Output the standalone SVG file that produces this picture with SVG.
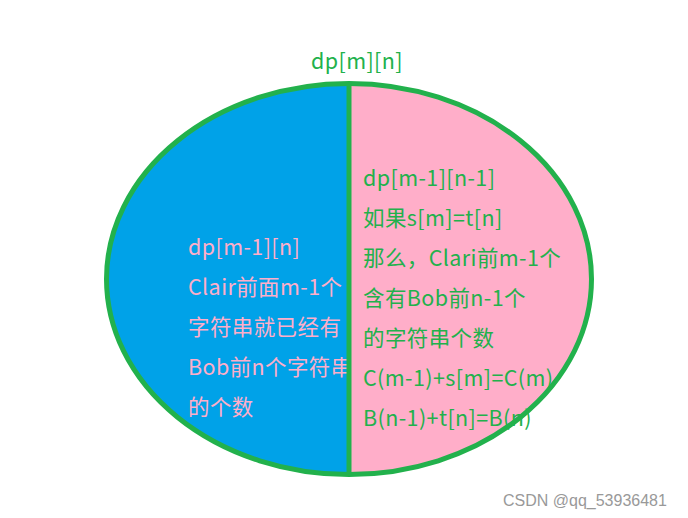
<svg xmlns="http://www.w3.org/2000/svg" width="688" height="518" viewBox="0 0 688 518">
<style>
text{font-family:"Microsoft YaHei","Noto Sans CJK SC","Noto Sans",sans-serif;font-size:21.5px;letter-spacing:0.4px}
.l{fill:#FFAEC9}
.r{fill:#22B14C}
.ln{stroke:#22B14C;stroke-width:5;fill:none}
</style>
<defs>
<clipPath id="cl"><rect x="0" y="0" width="348" height="518"/></clipPath>
</defs>
<rect width="688" height="518" fill="#fff"/>
<g id="left">
<path d="M349,83.5 A242.5,195.5 0 0 0 349,474.5 Z" fill="#00A2E8"/>
<g clip-path="url(#cl)">
<text class="l" x="188" y="255">dp[m-1][n]</text>
<text class="l" x="188" y="295">Clair前面m-1个</text>
<text class="l" x="188" y="335">字符串就已经有</text>
<text class="l" x="188" y="375">Bob前n个字符串</text>
<text class="l" x="188" y="415">的个数</text>
</g>
</g>
<g id="right">
<path d="M349,83.5 A242.5,195.5 0 0 1 349,474.5 Z" fill="#FFAEC9"/>
<text class="r" x="363" y="186">dp[m-1][n-1]</text>
<text class="r" x="363" y="226">如果s[m]=t[n]</text>
<text class="r" x="363" y="266">那么，Clari前m-1个</text>
<text class="r" x="363" y="306">含有Bob前n-1个</text>
<text class="r" x="363" y="346">的字符串个数</text>
<text class="r" x="363" y="386">C(m-1)+s[m]=C(m)</text>
<text class="r" x="363" y="426">B(n-1)+t[n]=B(n)</text>
</g>
<g id="connectors">
<ellipse class="ln" cx="349" cy="279" rx="242.5" ry="195.5"/>
<line class="ln" x1="349" y1="83.5" x2="349" y2="474.5"/>
</g>
<g id="title">
<text class="r" x="311" y="69">dp[m][n]</text>
</g>
<text x="503" y="506" style="font-family:'Liberation Sans',Arial,sans-serif;font-size:16px;letter-spacing:0;fill:#999">CSDN @qq_53936481</text>
</svg>
